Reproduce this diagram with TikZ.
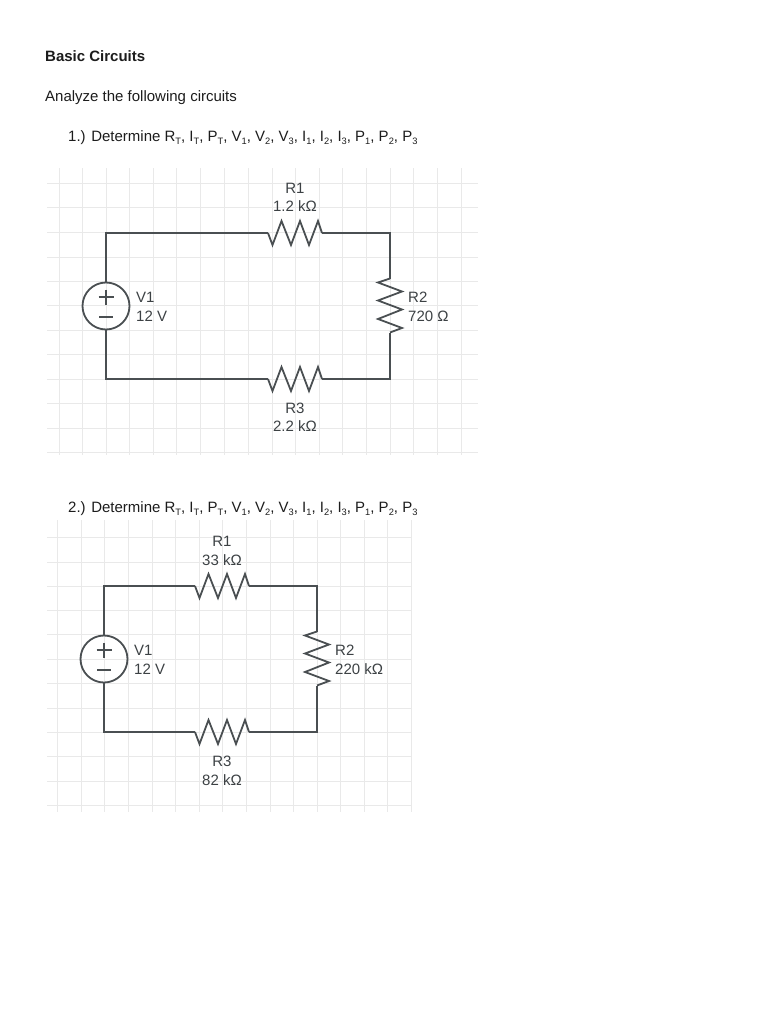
\documentclass[tikz,border=0pt]{standalone}
\usepackage{fontspec}
\setmainfont{Liberation Sans}
\usetikzlibrary{positioning}
\definecolor{wirecol}{HTML}{4A4F52}
\definecolor{labelcol}{HTML}{3C4144}
\definecolor{gridcol}{HTML}{E9E9E9}
\definecolor{textcol}{HTML}{1C1C1C}
\newcommand{\qsub}[1]{\raisebox{-2.5pt}{\fontsize{9.3}{9.3}\selectfont #1}}
\newcommand{\questionline}{Determine R\qsub{T}, I\qsub{T}, P\qsub{T}, V\qsub{1}, V\qsub{2}, V\qsub{3}, I\qsub{1}, I\qsub{2}, I\qsub{3}, P\qsub{1}, P\qsub{2}, P\qsub{3}}
\tikzset{
  wire/.style={draw=wirecol,line width=1.8pt},
  gridline/.style={draw=gridcol,line width=1pt},
  doctext/.style={anchor=base west,inner sep=0pt,text=textcol,font=\fontsize{15}{17}\selectfont},
  partlabel/.style={inner sep=0pt,text=labelcol,font=\fontsize{15}{18.5}\selectfont},
  resh/.pic={
    \coordinate (-a) at (-27,0);
    \coordinate (-b) at (27,0);
    \draw[wire,line join=miter] (-a) -- (-22.5,12) -- (-13.5,-12) -- (-4,12) -- (5,-12) -- (14,12) -- (23,-12) -- (-b);
  },
  vsrc/.pic={
    \node[circle,wire,minimum size=47pt,inner sep=0pt] (-c) at (0,0) {};
    \draw[wire,line width=1.2pt] (-7.5,-9) -- (7.5,-9) (0,-16.5) -- (0,-1.5);
    \draw[wire,line width=1.2pt] (-7,11) -- (7,11);
  }
}
\begin{document}
\begin{tikzpicture}[x=1pt,y=-1pt]
\useasboundingbox (0,0) rectangle (768,1024);
% page text
\node[doctext,font=\fontsize{15}{17}\selectfont\bfseries] (title) at (45,62) {Basic Circuits};
\node[doctext] (intro) at (45,102) {Analyze the following circuits};
\node[doctext] (q1) at (68,142) {1.) \questionline};
\node[doctext] (q2) at (68,512.5) {2.) \questionline};
% first grid
\foreach \x in {59,82.5,106,129.5,153,176.5,200.5,224,248,272,295,319,342,366,390,413,437,461}
  \draw[gridline] (\x,168) -- (\x,455);
\foreach \y in {184,208,233,257,281.5,305.5,330,354,379,403,428,452}
  \draw[gridline] (47,\y) -- (478,\y);
% second grid
\foreach \x in {57,81,104,128,152,175,199,222.5,246,270,293,317,340,364,387,411}
  \draw[gridline] (\x,520) -- (\x,812);
\foreach \y in {537,562,586,610,634.5,659,683,708,732,756,781,805}
  \draw[gridline] (47,\y) -- (412,\y);
% first circuit
\coordinate (tl1) at (106,233);
\coordinate (tr1) at (390,233);
\coordinate (bl1) at (106,379);
\coordinate (br1) at (390,379);
\pic (v1) at (106,306) {vsrc};
\pic (ra) at (295,233) {resh};
\pic[rotate=90] (rb) at (390,305.5) {resh};
\pic (rc) at (295,379) {resh};
\draw[wire] (v1-c.north) -- (tl1) -- (ra-a);
\draw[wire] (ra-b) -- (tr1) -- (rb-b);
\draw[wire] (rb-a) -- (br1) -- (rc-b);
\draw[wire] (rc-a) -- (bl1) -- (v1-c.south);
\node[partlabel,align=left,anchor=west] (lv1) at (136,307) {V1\\12 V};
\node[partlabel,align=center] (lra) at (295,197.5) {R1\\1.2 kΩ};
\node[partlabel,align=left,anchor=west] (lrb) at (408,307) {R2\\720 Ω};
\node[partlabel,align=center] (lrc) at (295,417.5) {R3\\2.2 kΩ};
% second circuit
\coordinate (tl2) at (104,586);
\coordinate (tr2) at (317,586);
\coordinate (bl2) at (104,732);
\coordinate (br2) at (317,732);
\pic (v2) at (104,659) {vsrc};
\pic (rd) at (222,586) {resh};
\pic[rotate=90] (re) at (317,658.5) {resh};
\pic (rf) at (222,732) {resh};
\draw[wire] (v2-c.north) -- (tl2) -- (rd-a);
\draw[wire] (rd-b) -- (tr2) -- (re-b);
\draw[wire] (re-a) -- (br2) -- (rf-b);
\draw[wire] (rf-a) -- (bl2) -- (v2-c.south);
\node[partlabel,align=left,anchor=west] (lv2) at (134,660) {V1\\12 V};
\node[partlabel,align=center] (lrd) at (222,551) {R1\\33 kΩ};
\node[partlabel,align=left,anchor=west] (lre) at (335,660) {R2\\220 kΩ};
\node[partlabel,align=center] (lrf) at (222,771) {R3\\82 kΩ};
\end{tikzpicture}
\end{document}
